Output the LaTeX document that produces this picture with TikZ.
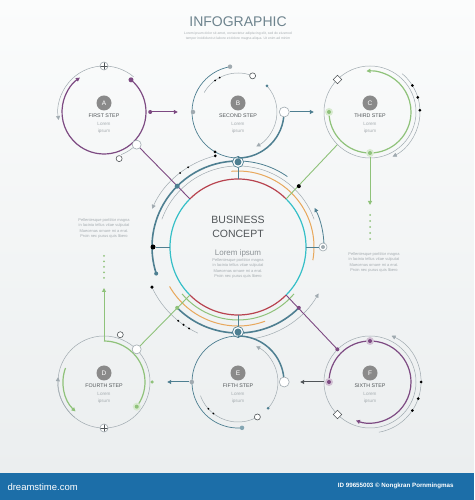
\documentclass[tikz,border=0pt]{standalone}
\usepackage{fontspec}
\setmainfont{Liberation Sans}
\usetikzlibrary{arrows.meta, positioning, calc}

\definecolor{bgtop}{RGB}{251,252,252}
\definecolor{bgbot}{RGB}{235,238,239}
\definecolor{plum}{RGB}{125,74,130}
\definecolor{tealgrey}{RGB}{78,127,145}
\definecolor{leaf}{RGB}{143,194,122}
\definecolor{brick}{RGB}{184,67,79}
\definecolor{amber}{RGB}{232,168,92}
\definecolor{aqua}{RGB}{53,191,199}
\definecolor{ring}{RGB}{160,170,176}
\definecolor{icon}{RGB}{138,138,138}
\definecolor{inkgrey}{RGB}{80,85,88}
\definecolor{lightink}{RGB}{165,172,176}
\definecolor{barblue}{RGB}{28,110,168}
\definecolor{titleink}{RGB}{110,132,142}

\tikzset{
  stepcirc/.style={circle, minimum size=92pt, inner sep=0pt},
  hubcirc/.style={circle, minimum size=136pt, inner sep=0pt},
  thinring/.style={draw=ring, line width=0.5pt},
  headed/.style={-{Triangle[length=4pt,width=4pt]}},
  stepicon/.style={circle, fill=icon, text=white, minimum size=15pt, inner sep=0pt, font=\fontsize{6.5}{7}\selectfont},
  steplabel/.style={text=inkgrey, font=\fontsize{5.3}{6}\selectfont, inner sep=0pt},
  lorem/.style={text=lightink, font=\fontsize{4.6}{7}\selectfont, inner sep=0pt, align=center},
  filler/.style={text=lightink, font=\fontsize{4}{5.5}\selectfont, inner sep=0pt, align=center},
  blob/.style={circle, fill=#1, inner sep=0pt, minimum size=4pt},
  halo/.style={circle, fill=#1!35, inner sep=0pt, minimum size=8pt,
    path picture={\fill[#1] (path picture bounding box.center) circle (2pt);}},
  hollow/.style={circle, fill=white, draw=ring, line width=0.6pt, inner sep=0pt, minimum size=#1},
  socket/.style={circle, fill=white, draw=tealgrey, line width=0.7pt, inner sep=0pt, minimum size=11pt,
    path picture={\fill[tealgrey] (path picture bounding box.center) circle (3.5pt);}},
  sight/.style={circle, fill=white, draw=ring, line width=0.6pt, inner sep=0pt, minimum size=8pt,
    path picture={\draw[inkgrey, line width=0.4pt] (path picture bounding box.north) -- (path picture bounding box.south)
      (path picture bounding box.west) -- (path picture bounding box.east);}},
  squaremark/.style={rectangle, fill=white, draw=inkgrey, line width=0.5pt, inner sep=0pt, minimum size=6pt, rotate=45},
}

\begin{document}
\begin{tikzpicture}[x=1pt, y=1pt]
  % backdrop and credit bar
  \shade[top color=bgtop, bottom color=bgbot] (0,27) rectangle (474,500);
  \fill[barblue] (0,0) rectangle (474,27);
  \useasboundingbox (0,0) rectangle (474,500);

  % main circles
  \node[hubcirc] (hub) at (238,253) {};
  \node[stepcirc] (stepA) at (104,388) {};
  \node[stepcirc] (stepB) at (238,388) {};
  \node[stepcirc] (stepC) at (370,388) {};
  \node[stepcirc] (stepD) at (104,118) {};
  \node[stepcirc] (stepE) at (238,118) {};
  \node[stepcirc] (stepF) at (370,118) {};

  % hub rings
  \draw[brick, line width=1.2pt] ([shift={(45:68)}]hub.center) arc[start angle=45, end angle=135, radius=68];
  \draw[brick, line width=1.2pt] ([shift={(225:68)}]hub.center) arc[start angle=225, end angle=315, radius=68];
  \draw[aqua, line width=1.2pt] ([shift={(135:68)}]hub.center) arc[start angle=135, end angle=225, radius=68];
  \draw[aqua, line width=1.2pt] ([shift={(-45:68)}]hub.center) arc[start angle=-45, end angle=45, radius=68];
  \draw[leaf, line width=1pt] ([shift={(220:73)}]hub.center) arc[start angle=220, end angle=320, radius=73];
  \draw[amber, line width=1pt] ([shift={(95:76)}]hub.center) arc[start angle=95, end angle=-10, radius=76];
  \draw[amber, line width=1pt] ([shift={(210:79)}]hub.center) arc[start angle=210, end angle=290, radius=79];
  \draw[thinring] ([shift={(20:81)}]hub.center) arc[start angle=20, end angle=160, radius=81];
  \draw[tealgrey, line width=1.6pt] ([shift={(90:86)}]hub.center) arc[start angle=90, end angle=198, radius=86];
  \draw[tealgrey, line width=1.6pt] ([shift={(225:86)}]hub.center) arc[start angle=225, end angle=315, radius=86];
  \draw[tealgrey, line width=0.8pt] ([shift={(90:86)}]hub.center) arc[start angle=90, end angle=55, radius=86];
  \draw[tealgrey, line width=0.8pt, headed] ([shift={(0:86)}]hub.center) arc[start angle=0, end angle=27, radius=86];
  \draw[thinring, headed] ([shift={(104:94)}]hub.center) arc[start angle=104, end angle=156, radius=94];
  \draw[thinring] ([shift={(205:95)}]hub.center) arc[start angle=205, end angle=245, radius=95];
  \draw[thinring, headed] ([shift={(-80:93)}]hub.center) arc[start angle=-80, end angle=-30, radius=93];
  \node[blob=tealgrey] (hubTail) at ([shift={(198:86)}]hub.center) {};
  \node[blob=black, minimum size=3pt] (hubDotA) at ([shift={(104:94)}]hub.center) {};
  \node[blob=black, minimum size=2pt] (hubDotB) at ([shift={(122:94)}]hub.center) {};
  \node[blob=black, minimum size=2pt] (hubDotC) at ([shift={(128:94)}]hub.center) {};
  \node[blob=black, minimum size=3.5pt] (hubDotD) at ([shift={(205:95)}]hub.center) {};
  \foreach \ang in {231,235,239}
    \node[blob=black, minimum size=2.2pt] (hubDot\ang) at ([shift={(\ang:95)}]hub.center) {};

  % hub joints
  \node[socket] (hubN) at ([shift={(90:85)}]hub.center) {};
  \node[socket] (hubS) at ([shift={(270:85)}]hub.center) {};
  \node[blob=black, minimum size=5pt] (hubW) at ([shift={(180:85)}]hub.center) {};
  \node[hollow=8pt, path picture={\fill[ring] (path picture bounding box.center) circle (2pt);}] (hubE) at ([shift={(0:85)}]hub.center) {};
  \draw[tealgrey, line width=1pt] (hub.90) -- (hubN) -- (stepB.south);
  \draw[tealgrey, line width=1pt] (hub.270) -- (hubS) -- (stepE.north);
  \draw[tealgrey, line width=0.8pt] (hub.180) -- (hubW);
  \draw[tealgrey, line width=0.8pt] (hub.0) -- (hubE);

  % spokes
  \draw[plum, line width=0.9pt] (hub.135) -- (stepA.-45);
  \draw[leaf, line width=0.9pt] (hub.45) -- (stepC.225);
  \draw[leaf, line width=0.9pt] (hub.225) -- (stepD.45);
  \draw[plum, line width=0.9pt] (hub.-45) -- (stepF.135);
  \node[blob=tealgrey, minimum size=5pt] (spokeA) at ([shift={(135:86)}]hub.center) {};
  \node[blob=black] (spokeC) at ([shift={(45:86)}]hub.center) {};
  \node[blob=leaf] (spokeD) at ([shift={(225:86)}]hub.center) {};
  \node[blob=plum] (spokeF) at ([shift={(-45:86)}]hub.center) {};

  % centre text
  \node[text=inkgrey, font=\fontsize{10.5}{14}\selectfont, align=center] (headline) at (238,273) {BUSINESS\\CONCEPT};
  \node[text=lightink!85!black, font=\fontsize{8}{8}\selectfont] (subline) at (238,247) {Lorem ipsum};
  \node[filler] (bodytext) at (238,231.5) {Pellentesque porttitor magna\\in lacinia tellus vitae vulputat\\Maecenas ornare mi a erat.\\Proin nec purus quis libero};

  % step A
  \draw[thinring, headed] ([shift={(50:46)}]stepA.center) arc[start angle=50, end angle=190, radius=46];
  \draw[thinring] ([shift={(-45:46)}]stepA.center) arc[start angle=-45, end angle=-68, radius=46];
  \node[hollow=6pt, draw=inkgrey] (tailA) at ([shift={(-72:49)}]stepA.center) {};
  \node[sight] (sightA) at ([shift={(90:46)}]stepA.center) {};
  \draw[plum, line width=1.2pt, headed] ([shift={(50:42)}]stepA.center) arc[start angle=50, end angle=-235, radius=42];
  \node[blob=plum, minimum size=5pt] (startA) at ([shift={(50:42)}]stepA.center) {};
  \node[hollow=9pt] (rimA) at (stepA.-45) {};
  \node[blob=plum] (outA) at (stepA.east) {};
  \draw[plum, line width=1pt, headed] (outA) -- ([xshift=-14pt]stepB.west);

  % step B
  \draw[tealgrey, line width=0.7pt] ([shift={(100:46)}]stepB.center) arc[start angle=100, end angle=270, radius=46];
  \draw[tealgrey, line width=1.5pt] ([shift={(270:46)}]stepB.center) arc[start angle=270, end angle=360, radius=46];
  \node[blob=ring, minimum size=4.5pt] (topB) at ([shift={(100:46)}]stepB.center) {};
  \node[blob=ring, minimum size=4.5pt] (leftB) at ([shift={(180:45)}]stepB.center) {};
  \node[blob=black, minimum size=3pt] (lowB) at ([shift={(240:46)}]stepB.center) {};
  \draw[thinring, headed] ([shift={(42:39)}]stepB.center) arc[start angle=42, end angle=-62, radius=39];
  \node[blob=tealgrey, minimum size=3pt] (startB) at ([shift={(42:39)}]stepB.center) {};
  \draw[thinring] ([shift={(68:39)}]stepB.center) arc[start angle=68, end angle=150, radius=39];
  \node[hollow=6pt, draw=inkgrey] (ringB) at ([shift={(68:39)}]stepB.center) {};
  \node[blob=black, minimum size=2pt] (dotB1) at ([shift={(118:39)}]stepB.center) {};
  \node[blob=black, minimum size=2pt] (dotB2) at ([shift={(126:39)}]stepB.center) {};
  \node[hollow=10pt] (outB) at (stepB.east) {};
  \draw[tealgrey, line width=1pt, headed] (outB) -- ([xshift=-10pt]stepC.west);

  % step C
  \draw[thinring] (stepC.center) circle[radius=46];
  \node[squaremark] (markC) at ([shift={(135:46)}]stepC.center) {};
  \draw[leaf, line width=1.2pt, headed] ([shift={(180:41)}]stepC.center) arc[start angle=180, end angle=455, radius=41];
  \node[halo=leaf] (leftC) at ([shift={(180:41)}]stepC.center) {};
  \node[halo=leaf] (knotC) at ([shift={(270:41)}]stepC.center) {};
  \draw[thinring, headed] ([shift={(50:50)}]stepC.center) arc[start angle=50, end angle=-63, radius=50];
  \foreach \ang in {32,17,2}
    \node[blob=black, minimum size=3pt] (dotC\ang) at ([shift={(\ang:50)}]stepC.center) {};
  \coordinate (dropC) at (370,295);
  \draw[leaf, line width=1pt, headed] (knotC) -- (dropC);
  \foreach \yy in {285,279,273,267,261}
    \fill[leaf] (370,\yy) circle (1pt);

  % step D
  \draw[thinring] (stepD.center) circle[radius=46];
  \draw[thinring, headed] ([shift={(230:46)}]stepD.center) arc[start angle=230, end angle=174, radius=46];
  \node[sight] (sightD) at ([shift={(270:46)}]stepD.center) {};
  \draw[leaf, line width=1.2pt] ([shift={(90:41)}]stepD.center) arc[start angle=90, end angle=-37, radius=41];
  \node[halo=leaf] (endD) at ([shift={(-37:41)}]stepD.center) {};
  \draw[leaf, line width=1.2pt, headed] ([shift={(160:41)}]stepD.center) arc[start angle=160, end angle=226, radius=41];
  \node[blob=leaf, minimum size=3.5pt] (sideD) at ([shift={(0:48)}]stepD.center) {};
  \node[hollow=6pt, draw=inkgrey] (ringD) at ([shift={(71:50)}]stepD.center) {};
  \node[hollow=9pt] (rimD) at (stepD.45) {};
  \coordinate (knotD) at ([shift={(90:41)}]stepD.center);
  \coordinate (riseD) at (104,212);
  \draw[leaf, line width=1pt, headed] (knotD) -- (riseD);
  \foreach \yy in {222,227.5,233,238.5,244}
    \fill[leaf] (104,\yy) circle (1pt);

  % step E
  \draw[tealgrey, line width=1.5pt] ([shift={(90:46)}]stepE.center) arc[start angle=90, end angle=-2, radius=46];
  \draw[tealgrey, line width=0.7pt] ([shift={(90:46)}]stepE.center) arc[start angle=90, end angle=275, radius=46];
  \node[hollow=10pt] (inE) at (stepE.east) {};
  \node[blob=ring, minimum size=4.5pt] (outE) at (stepE.west) {};
  \node[blob=tealgrey!70, minimum size=4.5pt] (lowE) at ([shift={(275:46)}]stepE.center) {};
  \draw[thinring, headed] ([shift={(-41:40)}]stepE.center) arc[start angle=-41, end angle=63, radius=40];
  \node[blob=tealgrey, minimum size=3pt] (startE) at ([shift={(-41:40)}]stepE.center) {};
  \draw[thinring] ([shift={(200:40)}]stepE.center) arc[start angle=200, end angle=295, radius=40];
  \node[hollow=6pt, draw=inkgrey] (ringE) at ([shift={(299:40)}]stepE.center) {};
  \node[blob=black, minimum size=2pt] (dotE1) at ([shift={(222:40)}]stepE.center) {};
  \node[blob=black, minimum size=2pt] (dotE2) at ([shift={(232:40)}]stepE.center) {};
  \draw[tealgrey, line width=1pt, headed] (outE) -- ([xshift=17pt]stepD.east);

  % step F
  \draw[thinring] (stepF.center) circle[radius=46];
  \node[squaremark] (markF) at ([shift={(225:46)}]stepF.center) {};
  \draw[plum, line width=1.2pt, headed] ([shift={(180:41)}]stepF.center) arc[start angle=180, end angle=-110, radius=41];
  \node[halo=plum] (leftF) at ([shift={(180:41)}]stepF.center) {};
  \node[halo=plum] (topF) at ([shift={(90:41)}]stepF.center) {};
  \node[blob=plum] (rimF) at (stepF.135) {};
  \draw[thinring, {Triangle[length=4pt,width=4pt]}-] ([shift={(65:51)}]stepF.center) arc[start angle=65, end angle=-80, radius=51];
  \foreach \ang in {0,-19,-34}
    \node[blob=black, minimum size=3pt] (dotF\ang) at ([shift={(\ang:51)}]stepF.center) {};
  \draw[inkgrey, line width=1pt, headed] (stepF.west) -- ([xshift=16pt]stepE.east);

  % step texts
  \foreach \s/\letter/\name in {A/A/FIRST STEP, B/B/SECOND STEP, C/C/THIRD STEP, D/D/FOURTH STEP, E/E/FIFTH STEP, F/F/SIXTH STEP} {
    \node[stepicon] (icon\s) at ([yshift=9pt]step\s.center) {\letter};
    \node[steplabel] (label\s) at ([yshift=-4pt]step\s.center) {\name};
    \node[lorem] (lorem\s) at ([yshift=-15.5pt]step\s.center) {Lorem\\ipsum};
  }

  % side notes and title
  \node[filler] (noteLeft) at (104,271.5) {Pellentesque porttitor magna\\in lacinia tellus vitae vulputat\\Maecenas ornare mi a erat.\\Proin nec purus quis libero};
  \node[filler] (noteRight) at (374,237.5) {Pellentesque porttitor magna\\in lacinia tellus vitae vulputat\\Maecenas ornare mi a erat.\\Proin nec purus quis libero};
  \node[text=titleink, font=\fontsize{14}{14}\selectfont] (title) at (238,478) {INFOGRAPHIC};
  \node[filler, font=\fontsize{3.4}{4.5}\selectfont] (titlesub) at (238,464) {Lorem ipsum dolor sit amet, consectetur adipiscing elit, sed do eiusmod\\tempor incididunt ut labore et dolore magna aliqua. Ut enim ad minim};

  % credit bar
  \node[text=white, font=\fontsize{9.5}{10}\selectfont, anchor=west] (brand) at (4,13) {dreamstime.com};
  \node[text=white, font=\bfseries\fontsize{6.2}{7}\selectfont, anchor=east] (credit) at (457,14) {ID 99655003 \textcopyright{} Nongkran Pornmingmas};
\end{tikzpicture}
\end{document}
